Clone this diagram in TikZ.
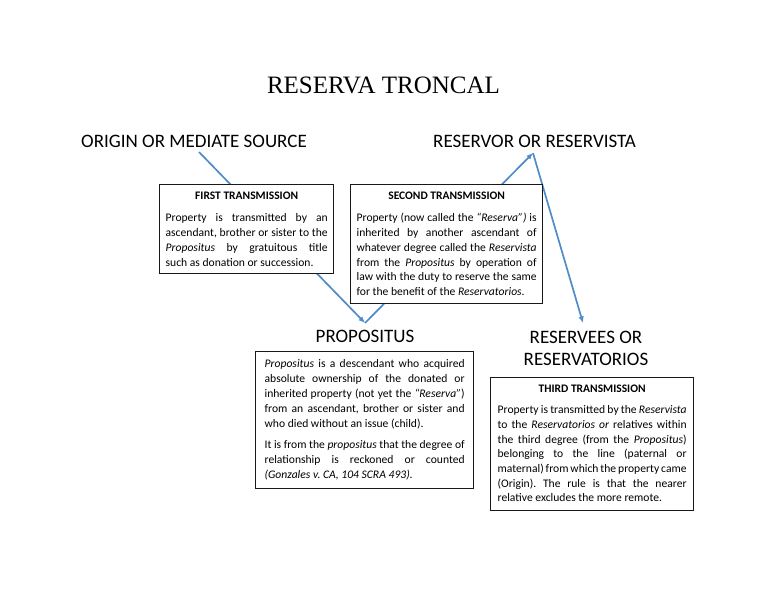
\documentclass[tikz,border=0pt]{standalone}
\usepackage{fontspec}
\setmainfont{Carlito}
\newfontfamily\titlefont{Liberation Serif}
\usetikzlibrary{arrows.meta}
\definecolor{flowblue}{RGB}{79,140,200}
\newcommand\jline[1]{\makebox[\linewidth][s]{#1}\par}
\newcommand\lline[1]{\makebox[\linewidth][l]{#1}\par}
\newcommand\hdrline[1]{\makebox[\linewidth]{\rule{0pt}{15pt}\bfseries\fontsize{11.5}{15}\selectfont #1}\par}
\newcommand\bodyset[1]{\fontsize{11.6}{#1}\selectfont\frenchspacing\lineskiplimit=-50pt\parskip=0pt\spaceskip=.226em plus .3em minus .1em\relax}
\begin{document}
\begin{tikzpicture}[x=1pt,y=-1pt,
  textbox/.style={draw=black!90, line width=1.3pt, fill=white, inner ysep=0pt, anchor=north west},
  bigname/.style={inner sep=0pt, font=\fontsize{19}{22}\selectfont},
  flow/.style={draw=flowblue, line width=1.7pt, -{Latex[length=6.5pt,width=5.5pt]}}]
\useasboundingbox (0,0) rectangle (768,594);
\fill[white] (0,0) rectangle (768,594);

\node[inner sep=0pt, anchor=base, font=\titlefont\fontsize{25}{30}\selectfont] (title) at (383.5,93) {RESERVA TRONCAL};

\node[bigname, anchor=base west] (origin) at (81,147) {ORIGIN OR MEDIATE SOURCE};
\node[bigname, anchor=base west] (reservor) at (433,147) {RESERVOR OR RESERVISTA};
\node[bigname, anchor=base] (propositus) at (365,342) {PROPOSITUS};
\node[bigname, anchor=north, align=center] (reservees) at (586,331) {RESERVEES OR\\RESERVATORIOS};

\coordinate (o1) at (199,152);
\coordinate (p1) at (365,323);
\coordinate (r1) at (533,153);
\coordinate (e1) at (583,323);
\draw[flow] (o1) -- (p1);
\draw[flow] (p1) -- (r1);
\draw[flow] (r1) -- (e1);

\node[textbox, inner xsep=6pt] (first) at (159,184) {\parbox[c][89pt][t]{162pt}{\bodyset{15}%
\hdrline{FIRST TRANSMISSION}\vspace{7pt}
\jline{Property is transmitted by an}
\jline{ascendant, brother or sister to the}
\jline{\textit{Propositus} by gratuitous title}
\lline{such as donation or succession.}}};

\node[textbox, inner xsep=6pt] (second) at (350,184) {\parbox[c][119pt][t]{180pt}{\bodyset{14.8}%
\hdrline{SECOND TRANSMISSION}\vspace{7.2pt}
\jline{Property (now called the \textit{“Reserva”)} is}
\jline{inherited by another ascendant of}
\jline{whatever degree called the \textit{Reservista}}
\jline{from the \textit{Propositus} by operation of}
\jline{law with the duty to reserve the same}
\lline{for the benefit of the \textit{Reservatorios}.}}};

\node[textbox, inner xsep=9pt] (propbox) at (255,351) {\parbox[c][137pt][t]{200pt}{\bodyset{15}%
\jline{\rule{0pt}{16pt}\textit{Propositus} is a descendant who acquired}
\jline{absolute ownership of the donated or}
\jline{inherited property (not yet the \textit{“Reserva”})}
\jline{from an ascendant, brother or sister and}
\lline{who died without an issue (child).}
\vspace{6pt}
\jline{It is from the \textit{propositus} that the degree of}
\jline{relationship is reckoned or counted}
\lline{\textit{(Gonzales v. CA, 104 SCRA 493).}}}};

\node[textbox, inner xsep=7pt] (third) at (490,377) {\parbox[c][133pt][t]{189pt}{\bodyset{14.7}%
\hdrline{THIRD TRANSMISSION}\vspace{6.3pt}
\jline{Property is transmitted by the \textit{Reservista}}
\jline{to the \textit{Reservatorios or} relatives within}
\jline{the third degree (from the \textit{Propositus})}
\jline{belonging to the line (paternal or}
\jline{maternal) from which the property came}
\jline{(Origin). The rule is that the nearer}
\lline{relative excludes the more remote.}}};
\end{tikzpicture}
\end{document}
